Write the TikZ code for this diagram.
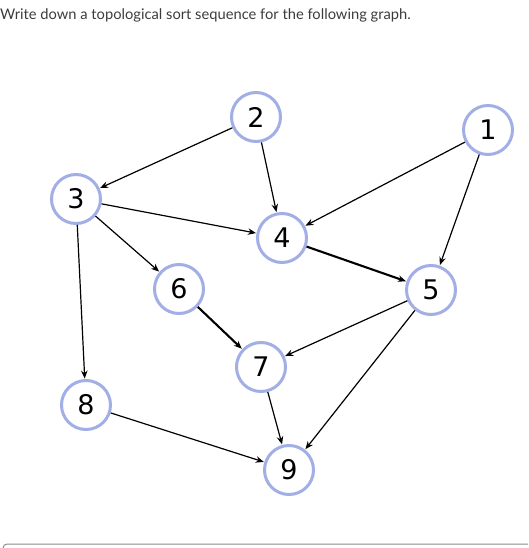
\documentclass[tikz,border=0pt]{standalone}
\usepackage{fontspec}
\setmainfont{Lato}
\newfontfamily\numfont{DejaVu Sans}
\usetikzlibrary{arrows.meta}
\definecolor{ringblue}{HTML}{A2AEE6}
\definecolor{titlegray}{HTML}{3A3D40}
\begin{document}
\begin{tikzpicture}[x=1pt,y=-1pt,
  vert/.style={circle,draw=ringblue,line width=3pt,fill=white,minimum size=49pt,inner sep=0pt,font=\numfont\fontsize{27}{27}\selectfont},
  edge/.style={-{Stealth[length=8pt,width=6.5pt]},line width=1.2pt,black,shorten >=0.5pt},
  thick edge/.style={edge,line width=2.1pt}]
\useasboundingbox (0,0) rectangle (528,548);
\node[anchor=west,text=titlegray,font=\fontsize{14.7}{16}\selectfont,inner sep=0pt] (title) at (0,15) {Write down a topological sort sequence for the following graph.};
\begin{scope}
\clip (0,530) rectangle (528,548);
\draw[gray!90,line width=1pt,rounded corners=4pt] (3,544) rectangle (540,600);
\end{scope}
\node[vert] (n2) at (256,117) {2};
\node[vert] (n1) at (488,130) {1};
\node[vert] (n3) at (76,199) {3};
\node[vert] (n4) at (282,238) {4};
\node[vert] (n5) at (431,290) {5};
\node[vert] (n6) at (179,289) {6};
\node[vert] (n7) at (261,367) {7};
\node[vert] (n8) at (86,405) {8};
\node[vert] (n9) at (289,470) {9};
\draw[edge] (n2) -- (n3);
\draw[edge] (n2) -- (n4);
\draw[edge] (n1) -- (n4);
\draw[edge] (n1) -- (n5);
\draw[edge] (n3) -- (n4);
\draw[edge] (n3) -- (n6);
\draw[edge] (n3) -- (n8);
\draw[thick edge] (n4) -- (n5);
\draw[thick edge] (n6) -- (n7);
\draw[edge] (n5) -- (n7);
\draw[edge] (n5) -- (n9);
\draw[edge] (n7) -- (n9);
\draw[edge] (n8) -- (n9);
\end{tikzpicture}
\end{document}
